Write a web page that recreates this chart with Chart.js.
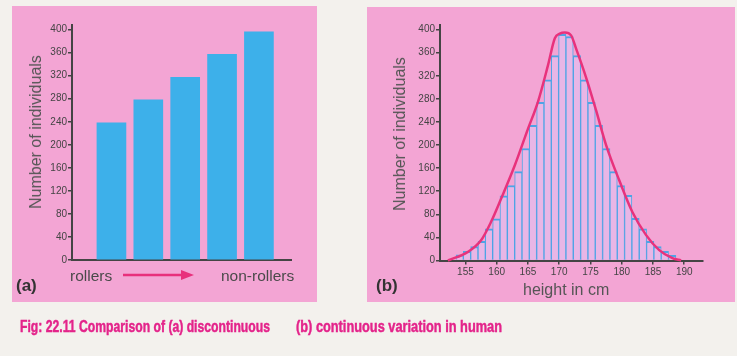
<!DOCTYPE html>
<html><head><meta charset="utf-8">
<script src="https://cdn.jsdelivr.net/npm/chart.js@4.4.1/dist/chart.umd.min.js"></script>
<style>
html,body{margin:0;padding:0;}
body{width:737px;height:356px;background:#F3F1ED;position:relative;overflow:hidden;font-family:"Liberation Sans",Arial,sans-serif;}
.panel{position:absolute;background:#F3A5D4;}
#pa{left:12px;top:6px;width:305px;height:296px;}
#pb{left:367px;top:7px;width:368px;height:295px;}
.panel canvas{position:absolute;left:0;top:0;}
.t{position:absolute;white-space:nowrap;color:#4a4a4a;line-height:1;}
.ytitle{font-size:16px;line-height:16px;color:#555;transform:translate(-50%,-50%) rotate(-90deg);}
.cap{position:absolute;white-space:nowrap;line-height:1;font-family:"Liberation Sans Narrow","Liberation Sans",Arial,sans-serif;font-weight:bold;font-size:17px;color:#E3248A;-webkit-text-stroke:0.45px #E3248A;transform-origin:0 0;text-shadow:0 0 1px #f7c6e0;}
</style>
</head><body>
<div class="panel" id="pa"><canvas id="ca" width="305" height="296"></canvas></div>
<div class="panel" id="pb"><canvas id="cb" width="368" height="295"></canvas></div>

<div class="t ytitle" style="left:36px;top:132px;">Number of individuals</div>
<div class="t ytitle" style="left:400px;top:133.5px;">Number of individuals</div>
<div class="t" id="rollers" style="font-size:15.5px;left:70px;top:268px;">rollers</div>
<div class="t" id="nonrollers" style="font-size:15.5px;left:221px;top:268px;">non-rollers</div>
<svg style="position:absolute;left:0;top:0;" width="737" height="356">
  <line x1="123" y1="275" x2="184" y2="275" stroke="#E8307C" stroke-width="2.5"/>
  <polygon points="194,275 181,270 181,280" fill="#E8307C"/>
</svg>
<div class="t" style="font-size:17px;font-weight:bold;color:#333;left:16px;top:277px;">(a)</div>
<div class="t" style="font-size:17px;font-weight:bold;color:#333;left:376px;top:277px;">(b)</div>
<div class="t" style="font-size:16px;color:#555;left:523px;top:282px;">height in cm</div>

<div class="cap" id="cap1" style="left:20px;top:317.5px;">Fig: 22.11 Comparison of (a) discontinuous</div>
<div class="cap" id="cap2" style="left:296px;top:317.5px;">(b) continuous variation in human</div>

<script>
// ---- data ----
const classes = [1, 2, 3, 4, 5];                 // rollers -> non-rollers
const classCounts = [238, 278, 317, 357, 396];
const yTicks = [0, 40, 80, 120, 160, 200, 240, 280, 320, 360, 400];

const heightBins = [154.08, 155.25, 156.42, 157.60, 158.77, 159.94, 161.11, 162.29, 163.46, 164.63,
                    165.80, 166.98, 168.15, 169.32, 170.49, 171.66, 172.84, 174.01, 175.18, 176.35,
                    177.53, 178.70, 179.87, 181.04, 182.21, 183.39, 184.56, 185.73, 186.90, 188.08];
const binCounts = [10, 16, 24, 33, 55, 72, 112, 130, 154, 194, 234, 274, 313, 355, 392,
                   388, 355, 313, 274, 234, 194, 154, 130, 113, 73, 55, 33, 24, 16, 9];
const heightTicks = [155, 160, 165, 170, 175, 180, 185, 190];

const curveHeights = [152.2, 155.4, 157.5, 159.1, 160.7, 162.9, 165.0, 166.6, 168.2, 169.3, 170.1, 170.9,
                      171.9, 172.7, 174.3, 175.9, 177.5, 179.6, 181.7, 183.9, 186.0, 188.1, 189.5];
const curveCounts = [0, 15, 35, 67, 107, 165, 228, 275, 338, 385, 393, 395,
                     390, 367, 317, 260, 200, 139, 84, 44, 18, 4, 0];

// ---- common styling ----
const AX = '#444';
const tickFont = {family: '"Liberation Sans", Arial, sans-serif', size: 10};
function yScale(width) {
  return {
    min: 0, max: 408,
    afterBuildTicks: s => { s.ticks = yTicks.map(v => ({value: v})); },
    afterFit: s => { s.width = width; },
    border: {color: AX, width: 2},
    grid: {drawOnChartArea: false, drawTicks: true, tickLength: 4, color: AX, lineWidth: 1.5},
    ticks: {color: AX, font: tickFont, padding: 1}
  };
}

// ---- (a) discontinuous ----
new Chart(document.getElementById('ca'), {
  type: 'bar',
  data: {
    datasets: [{
      data: classes.map((c, i) => ({x: c, y: classCounts[i]})),
      backgroundColor: '#3DB0EA',
      borderWidth: 0,
      barThickness: 29
    }]
  },
  options: {
    responsive: false, animation: false,
    layout: {padding: {left: 0, top: 19, right: 26, bottom: 42}},
    plugins: {legend: {display: false}, tooltip: {enabled: false}},
    scales: {
      x: {
        type: 'linear', min: -0.07, max: 5.87, offset: false,
        afterFit: s => { s.height = 0; },
        border: {color: AX, width: 2},
        grid: {display: false, drawTicks: false, offset: false},
        ticks: {display: false}
      },
      y: yScale(60)
    }
  }
});

// ---- (b) continuous ----
new Chart(document.getElementById('cb'), {
  data: {
    datasets: [
      {
        type: 'line',
        data: curveHeights.map((h, i) => ({x: h, y: curveCounts[i]})),
        borderColor: '#E8327C', borderWidth: 2.5,
        pointRadius: 0, cubicInterpolationMode: 'monotone',
        fill: false, order: 0, clip: false
      },
      {
        type: 'bar',
        data: heightBins.map((h, i) => ({x: h, y: binCounts[i]})),
        backgroundColor: '#E8B6E6',
        borderColor: '#4DA4E6',
        borderWidth: {top: 2, left: 1, right: 1, bottom: 0},
        borderSkipped: false,
        barPercentage: 1, categoryPercentage: 1,
        order: 1
      }
    ]
  },
  options: {
    responsive: false, animation: false,
    layout: {padding: {left: 0, top: 18, right: 32, bottom: 21.5}},
    plugins: {legend: {display: false}, tooltip: {enabled: false}},
    scales: {
      x: {
        type: 'linear', min: 150.93, max: 193.0, offset: false,
        afterBuildTicks: s => { s.ticks = heightTicks.map(v => ({value: v})); },
        afterFit: s => { s.height = 20; },
        border: {color: AX, width: 2},
        grid: {drawOnChartArea: false, drawTicks: true, tickLength: 4, color: AX, lineWidth: 1.5, offset: false},
        ticks: {color: AX, font: tickFont, padding: 2, maxRotation: 0, autoSkip: false}
      },
      y: yScale(73)
    }
  }
});

// fit condensed caption to its measured width
function fitCap(id, w) {
  const el = document.getElementById(id);
  const cw = el.getBoundingClientRect().width;
  el.style.transform = 'scaleX(' + (w / cw) + ')';
}
fitCap('cap1', 250);
fitCap('cap2', 206);
</script>
</body></html>
